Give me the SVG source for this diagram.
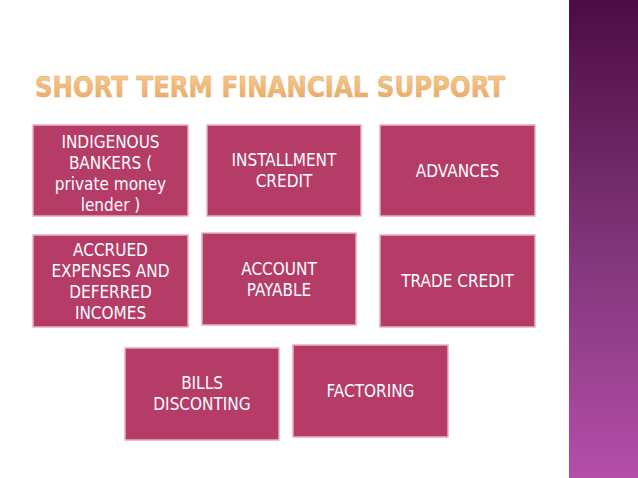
<svg xmlns="http://www.w3.org/2000/svg" width="638" height="478" viewBox="0 0 638 478">
<defs>
<linearGradient id="bar" x1="0" y1="0" x2="0" y2="1"><stop offset="0" stop-color="#4d0c43"/><stop offset="0.5" stop-color="#7e3477"/><stop offset="1" stop-color="#b44ea8"/></linearGradient>
<linearGradient id="tg" x1="0" y1="0" x2="0" y2="1"><stop offset="0" stop-color="#f7cf98"/><stop offset="1" stop-color="#e9a55c"/></linearGradient>
<style>
.b rect{fill:#b53c67;stroke:#e8b0c4;stroke-width:1.5}
.b text{fill:#fff;font-family:"DejaVu Sans Condensed","Liberation Sans",sans-serif;font-size:17px;text-anchor:middle}
</style>
</defs>
<rect width="638" height="478" fill="#fff"/>
<rect x="569" y="0" width="69" height="478" fill="url(#bar)"/>
<text x="35" y="97" font-family="'DejaVu Sans Condensed','Liberation Sans',sans-serif" font-size="29" font-weight="bold" fill="url(#tg)" stroke="#e8a866" stroke-width="0.5" textLength="470" lengthAdjust="spacingAndGlyphs">SHORT TERM FINANCIAL SUPPORT</text>
<g id="n1" class="b"><rect x="33" y="125" width="155" height="91"/><text x="110.5" y="148">INDIGENOUS</text><text x="110.5" y="169">BANKERS (</text><text x="110.5" y="190">private money</text><text x="110.5" y="211">lender )</text></g>
<g id="n2" class="b"><rect x="207" y="125" width="154" height="91"/><text x="284" y="166">INSTALLMENT</text><text x="284" y="187">CREDIT</text></g>
<g id="n3" class="b"><rect x="380" y="125" width="155" height="91"/><text x="457.5" y="177">ADVANCES</text></g>
<g id="n4" class="b"><rect x="33" y="235" width="155" height="92"/><text x="110.5" y="256">ACCRUED</text><text x="110.5" y="277">EXPENSES AND</text><text x="110.5" y="298">DEFERRED</text><text x="110.5" y="319">INCOMES</text></g>
<g id="n5" class="b"><rect x="202" y="233" width="154" height="92"/><text x="279" y="275">ACCOUNT</text><text x="279" y="296">PAYABLE</text></g>
<g id="n6" class="b"><rect x="380" y="235" width="155" height="92"/><text x="457.5" y="287">TRADE CREDIT</text></g>
<g id="n7" class="b"><rect x="125" y="348" width="154" height="92"/><text x="202" y="389">BILLS</text><text x="202" y="410">DISCONTING</text></g>
<g id="n8" class="b"><rect x="293" y="345" width="155" height="92"/><text x="370.5" y="397">FACTORING</text></g>
<g id="connectors"/>
</svg>
